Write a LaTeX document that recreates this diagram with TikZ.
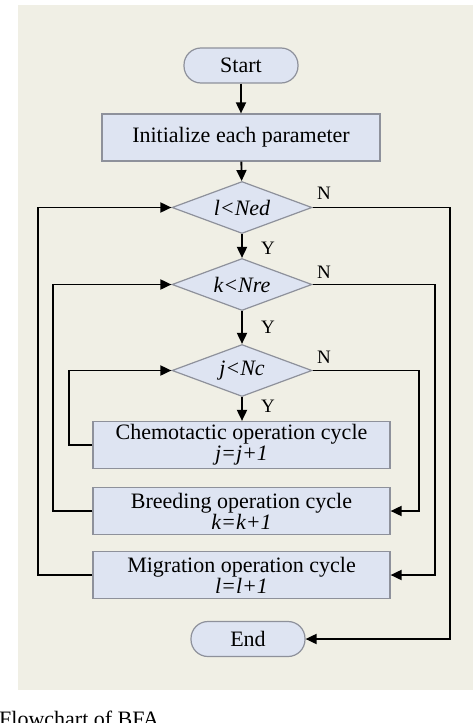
\documentclass[tikz,border=0pt]{standalone}
\usepackage{fontspec}
\setmainfont{Liberation Serif}
\usetikzlibrary{shapes.geometric,arrows.meta}
\definecolor{bgbeige}{RGB}{240,239,229}
\definecolor{nodefill}{RGB}{222,228,242}
\definecolor{nodeedge}{RGB}{142,145,155}
\tikzset{
  x=1pt, y=-1pt,
  every node/.style={font=\fontsize{22}{25}\selectfont, text=black},
  terminal/.style={draw=nodeedge, line width=1.2pt, fill=nodefill, rounded corners=17pt, minimum width=114pt, minimum height=35pt, inner sep=0pt},
  procbox/.style={draw=nodeedge, line width=1.2pt, fill=nodefill, minimum width=297pt, minimum height=47pt, inner sep=0pt, align=center, font=\fontsize{22}{24}\selectfont},
  decision/.style={draw=nodeedge, line width=1.2pt, fill=nodefill, diamond, aspect=2.7, minimum width=140pt, minimum height=52pt, inner sep=0pt, font=\fontsize{22}{24}\selectfont\itshape},
  flow/.style={draw=black, line width=1.8pt, -{Triangle[length=11pt,width=10pt]}},
  yn/.style={font=\fontsize{19}{22}\selectfont, inner sep=0pt}
}
\begin{document}
\begin{tikzpicture}
\useasboundingbox (0,0) rectangle (474,723);
\fill[bgbeige] (18,5) rectangle (473,690);

\node[terminal] (start) at (241,65.5) {Start};
\node[procbox, minimum width=278pt] (init) at (241,137.5) {Initialize each parameter};
\node[decision] (d1) at (242,207.5) {l<Ned};
\node[decision] (d2) at (242,284.5) {k<Nre};
\node[decision] (d3) at (242,370.5) {j<Nc};
\node[procbox] (chemo) at (241.5,445) {Chemotactic operation cycle\\[-3pt] \textit{j=j+1}};
\node[procbox] (breed) at (241.5,511) {Breeding operation cycle\\[-3pt] \textit{k=k+1}};
\node[procbox] (migr) at (241.5,575) {Migration operation cycle\\[-3pt] \textit{l=l+1}};
\node[terminal] (end) at (248,639) {End};

\node[yn] (y1) at (268,248) {Y};
\node[yn] (y2) at (268,327) {Y};
\node[yn] (y3) at (268,406) {Y};
\node[yn] (n1) at (324,193) {N};
\node[yn] (n2) at (324,272) {N};
\node[yn] (n3) at (324,357) {N};

\coordinate (c1a) at (69,445);
\coordinate (c1b) at (69,370.5);
\coordinate (c2a) at (419,370.5);
\coordinate (c2b) at (419,511);
\coordinate (c3a) at (53,511);
\coordinate (c3b) at (53,284.5);
\coordinate (c4a) at (435,284.5);
\coordinate (c4b) at (435,575);
\coordinate (c5a) at (38,575);
\coordinate (c5b) at (38,207.5);
\coordinate (c6a) at (450,207.5);
\coordinate (c6b) at (450,639);

\draw[flow] (start) -- (init);
\draw[flow] (init) -- (d1);
\draw[flow] (d1) -- (d2);
\draw[flow] (d2) -- (d3);
\draw[flow] (d3) -- (chemo.north -| d3.south);
\draw[flow] (chemo.west) -- (c1a) -- (c1b) -- (d3.west);
\draw[flow] (d3.east) -- (c2a) -- (c2b) -- (breed.east);
\draw[flow] (breed.west) -- (c3a) -- (c3b) -- (d2.west);
\draw[flow] (d2.east) -- (c4a) -- (c4b) -- (migr.east);
\draw[flow] (migr.west) -- (c5a) -- (c5b) -- (d1.west);
\draw[flow] (d1.east) -- (c6a) -- (c6b) -- (end.east);

\node[anchor=base west, inner sep=0pt, font=\fontsize{22}{25}\selectfont] (cap) at (-1,726) {Flowchart of BFA};
\end{tikzpicture}
\end{document}
